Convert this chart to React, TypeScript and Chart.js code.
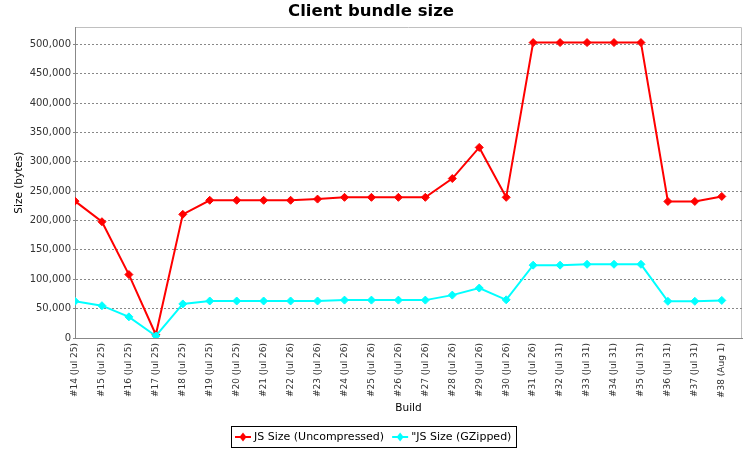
import React, { useEffect, useRef } from 'react';
import { Chart, registerables } from 'chart.js';

Chart.register(...registerables);

const builds: string[] = [
  '#14 (Jul 25)', '#15 (Jul 25)', '#16 (Jul 25)', '#17 (Jul 25)', '#18 (Jul 25)',
  '#19 (Jul 25)', '#20 (Jul 25)', '#21 (Jul 26)', '#22 (Jul 26)', '#23 (Jul 26)',
  '#24 (Jul 26)', '#25 (Jul 26)', '#26 (Jul 26)', '#27 (Jul 26)', '#28 (Jul 26)',
  '#29 (Jul 26)', '#30 (Jul 26)', '#31 (Jul 26)', '#32 (Jul 31)', '#33 (Jul 31)',
  '#34 (Jul 31)', '#35 (Jul 31)', '#36 (Jul 31)', '#37 (Jul 31)', '#38 (Aug 1)',
];

const jsUncompressed: number[] = [
  233000, 198000, 108000, 5500, 210500,
  234500, 234500, 234500, 234500, 236500,
  239500, 239500, 239500, 239500, 271500,
  324500, 239500, 503000, 503000, 503000,
  503000, 503000, 232500, 232500, 241000,
];

const jsGzipped: number[] = [
  62500, 55000, 36000, 3500, 58000,
  63000, 63000, 63000, 63000, 63000,
  64500, 64500, 64500, 64500, 73000,
  85000, 65000, 124000, 124000, 125500,
  125500, 125500, 62500, 62500, 64000,
];

const yTickValues: number[] = [0, 50000, 100000, 150000, 200000, 250000, 300000, 350000, 400000, 450000, 500000];

const seriesLabels: string[] = ['JS Size (Uncompressed)', '"JS Size (GZipped)'];
const seriesColors: string[] = ['#ff0000', '#00ffff'];

const FONT = '"DejaVu Sans", sans-serif';

const fmt = (v: number) => String(Math.round(v)).replace(/\B(?=(\d{3})+(?!\d))/g, ',');

const outlinePlugin = {
  id: 'plotOutline',
  beforeDraw(chart: any) {
    const { ctx, chartArea: a } = chart;
    ctx.save();
    ctx.strokeStyle = '#c0c0c0';
    ctx.lineWidth = 1;
    ctx.beginPath();
    ctx.moveTo(Math.round(a.left) + 0.5, Math.round(a.top) + 0.5);
    ctx.lineTo(Math.round(a.right) - 0.5, Math.round(a.top) + 0.5);
    ctx.lineTo(Math.round(a.right) - 0.5, Math.round(a.bottom) + 0.5);
    ctx.stroke();
    ctx.restore();
  },
};

const boxLegendPlugin = {
  id: 'boxLegend',
  afterDraw(chart: any) {
    const ctx = chart.ctx;
    const ds = chart.data.datasets;
    ctx.save();
    ctx.font = `11px ${FONT}`;
    const sym = 16;
    const gapSym = 3;
    const gapItem = 8;
    const padL = 3.5;
    const padR = 5;
    const widths = ds.map((d: any) => ctx.measureText(d.label).width);
    let total = padL + padR;
    widths.forEach((w: number, i: number) => {
      total += sym + gapSym + w + (i > 0 ? gapItem : 0);
    });
    const cx = chart.width / 2 - 1.5;
    const x0 = Math.round(cx - total / 2) + 0.5;
    const top = 426.5;
    const h = 21;
    const cy = top + h / 2;
    ctx.strokeStyle = '#000';
    ctx.lineWidth = 1;
    ctx.strokeRect(x0, top, Math.round(total), h);
    let x = x0 + padL;
    ds.forEach((d: any, i: number) => {
      if (i > 0) x += gapItem;
      const c = d.borderColor;
      ctx.strokeStyle = c;
      ctx.fillStyle = c;
      ctx.lineWidth = 2;
      ctx.beginPath();
      ctx.moveTo(x, cy);
      ctx.lineTo(x + sym, cy);
      ctx.stroke();
      const mx = x + sym / 2;
      ctx.beginPath();
      ctx.moveTo(mx, cy - 4.5);
      ctx.lineTo(mx + 3.5, cy);
      ctx.lineTo(mx, cy + 4.5);
      ctx.lineTo(mx - 3.5, cy);
      ctx.closePath();
      ctx.fill();
      x += sym + gapSym;
      ctx.fillStyle = '#000';
      ctx.textBaseline = 'middle';
      ctx.textAlign = 'left';
      ctx.fillText(d.label, x, cy + 0.5);
      x += widths[i];
    });
    ctx.restore();
  },
};

export default function App() {
  const ref = useRef<HTMLCanvasElement>(null);

  useEffect(() => {
    const toPoints = (arr: number[]) => arr.map((v, i) => ({ x: i, y: v }));
    const chart = new Chart(ref.current as HTMLCanvasElement, {
      type: 'line',
      data: {
        datasets: [
          {
            label: seriesLabels[0],
            data: toPoints(jsUncompressed),
            borderColor: seriesColors[0],
            backgroundColor: seriesColors[0],
            pointBackgroundColor: seriesColors[0],
            pointBorderColor: seriesColors[0],
            borderWidth: 2,
            pointStyle: 'rectRot',
            pointRadius: 4,
            pointBorderWidth: 1,
            tension: 0,
            clip: 0,
            order: 1,
          },
          {
            label: seriesLabels[1],
            data: toPoints(jsGzipped),
            borderColor: seriesColors[1],
            backgroundColor: seriesColors[1],
            pointBackgroundColor: seriesColors[1],
            pointBorderColor: seriesColors[1],
            borderWidth: 2,
            pointStyle: 'rectRot',
            pointRadius: 4,
            pointBorderWidth: 1,
            tension: 0,
            clip: 0,
            order: 0,
          },
        ],
      },
      options: {
        animation: false,
        responsive: false,
        events: [],
        layout: { padding: { left: 0, right: 8, top: 0, bottom: 30 } },
        plugins: {
          legend: { display: false },
          tooltip: { enabled: false },
          title: {
            display: true,
            text: 'Client bundle size',
            color: '#000',
            font: { family: FONT, size: 16.5, weight: 'bold' },
            padding: { top: 2, bottom: 5.5 },
          },
        },
        scales: {
          x: {
            type: 'linear',
            min: 0,
            max: 24.75,
            grid: { display: false, drawTicks: false },
            border: { display: true, color: '#888' },
            ticks: {
              stepSize: 1,
              autoSkip: false,
              includeBounds: false,
              maxRotation: 90,
              minRotation: 90,
              padding: 5,
              color: '#333',
              font: { family: FONT, size: 9 },
              callback: (v: any) => (Number.isInteger(v) && builds[v] !== undefined ? builds[v] : ''),
            },
            title: {
              display: true,
              text: 'Build',
              color: '#000',
              font: { family: FONT, size: 10.5 },
              padding: { top: 2, bottom: 5 },
            },
            afterFit: (s: any) => {
              s.height = 82;
            },
          },
          y: {
            type: 'linear',
            min: 0,
            max: 529000,
            afterBuildTicks: (s: any) => {
              s.ticks = yTickValues.map((v) => ({ value: v }));
            },
            grid: {
              color: (c: any) => (c.tick && c.tick.value === 0 ? 'rgba(0,0,0,0)' : '#888'),
              lineWidth: 1,
              drawTicks: true,
              tickLength: 2,
              tickColor: '#888',
            },
            border: { display: true, color: '#888', dash: [2, 2] },
            ticks: {
              autoSkip: false,
              padding: 2,
              color: '#333',
              font: { family: FONT, size: 10 },
              callback: (v: any) => fmt(Number(v)),
            },
            title: {
              display: true,
              text: 'Size (bytes)',
              color: '#000',
              font: { family: FONT, size: 10.5 },
              padding: { top: 13, bottom: 0 },
            },
            afterFit: (s: any) => {
              s.width = 75;
            },
          },
        },
      } as any,
      plugins: [outlinePlugin, boxLegendPlugin],
    });
    return () => chart.destroy();
  }, []);

  return (
    <div style={{ position: 'absolute', left: 0, top: 0, width: 750, height: 450, background: '#fff' }}>
      <canvas ref={ref} width={750} height={450} style={{ display: 'block' }} />
    </div>
  );
}
